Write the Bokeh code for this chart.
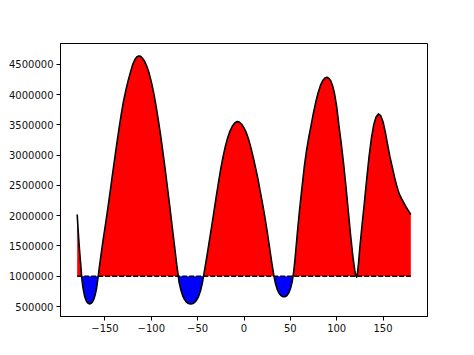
import numpy as np
from bokeh.plotting import figure
from bokeh.models import Range1d, FixedTicker
from bokeh.embed import file_html
from bokeh.resources import INLINE

# Angle (degrees) and value
angles = [-180, -179, -178, -177, -176, -175, -174, -173, -172, -170.5, -169, -167.5,
          -166.5, -165, -163.5, -162, -160.5, -159, -157.5, -156, -154, -152, -150,
          -147.5, -145, -142.5, -140, -137.5, -135, -132.5, -130, -127.5, -125, -122.5,
          -120, -117.5, -115.5, -113.5, -111.5, -109.5, -107.5, -105, -102.5, -100,
          -97.5, -95, -92.5, -90, -87.5, -85, -82.5, -80, -77.5, -75, -72.5, -70, -68,
          -66, -64, -62, -60, -57.5, -55, -53, -51, -49, -47, -45, -42, -40, -37.5,
          -35, -32.5, -30, -27.5, -25, -22.5, -20, -17.5, -15, -12.5, -10, -7.5, -5,
          -2.5, 0, 2.5, 5, 7.5, 10, 12.5, 15, 17.5, 20, 22.5, 25, 27.5, 30, 32, 34, 36,
          38, 40, 41.8, 43.2, 44.8, 46.5, 48.5, 50.5, 52, 53.5, 55, 57.5, 60, 62.5, 65,
          67.5, 70, 72.5, 75, 77.5, 80, 82.5, 85, 87.5, 89.5, 91.5, 93.5, 95.5, 97.5,
          100, 102.5, 105, 107.5, 110, 112.5, 115, 117.5, 119.5, 120.5, 121.5, 122.5,
          123.5, 125, 127.5, 130, 132.5, 135, 137.5, 140, 142.5, 145, 147.5, 150, 152.5,
          155, 157.5, 160, 162.5, 165, 167.5, 170, 172.5, 175, 177.5, 180]
values = [2020000, 1770000, 1540000, 1340000, 1160000, 960000, 840000, 745000, 675000,
          605000, 565000, 548000, 543000, 552000, 577000, 623000, 697000, 810000,
          975000, 1160000, 1380000, 1600000, 1800000, 2060000, 2330000, 2610000,
          2890000, 3160000, 3420000, 3670000, 3890000, 4070000, 4230000, 4370000,
          4500000, 4585000, 4625000, 4638000, 4630000, 4600000, 4555000, 4470000,
          4360000, 4210000, 4030000, 3820000, 3580000, 3330000, 3050000, 2760000,
          2450000, 2140000, 1820000, 1500000, 1180000, 900000, 767000, 673000, 611000,
          571000, 549000, 540000, 550000, 572000, 610000, 669000, 757000, 882000,
          1150000, 1330000, 1570000, 1810000, 2060000, 2310000, 2550000, 2780000,
          2980000, 3150000, 3290000, 3400000, 3480000, 3530000, 3555000, 3545000,
          3510000, 3450000, 3370000, 3260000, 3120000, 2960000, 2790000, 2610000,
          2400000, 2200000, 1980000, 1740000, 1480000, 1220000, 1030000, 880000,
          778000, 714000, 679000, 663000, 660000, 665000, 685000, 731000, 815000,
          913000, 1060000, 1270000, 1700000, 2100000, 2450000, 2800000, 3080000,
          3300000, 3500000, 3700000, 3880000, 4030000, 4150000, 4230000, 4275000,
          4285000, 4270000, 4230000, 4150000, 4030000, 3800000, 3480000, 3180000,
          2850000, 2480000, 2080000, 1680000, 1320000, 1100000, 1020000, 985000,
          1060000, 1200000, 1470000, 1860000, 2230000, 2620000, 2980000, 3280000,
          3500000, 3630000, 3680000, 3650000, 3550000, 3380000, 3170000, 2970000,
          2800000, 2630000, 2480000, 2360000, 2280000, 2210000, 2140000, 2080000,
          2020000]
baseline = 1000000

x_ticks = [-150, -100, -50, 0, 50, 100, 150]
x_tick_labels = ["\u2212150", "\u2212100", "\u221250", "0", "50", "100", "150"]
y_ticks = [500000, 1000000, 1500000, 2000000, 2500000, 3000000, 3500000, 4000000, 4500000]
y_tick_labels = [str(v) for v in y_ticks]

x = np.array(angles, dtype=float)
y = np.array(values, dtype=float)

# insert exact crossing points with the baseline so the fills meet the curve
xs, ys = [x[0]], [y[0]]
for i in range(1, len(x)):
    d0, d1 = y[i - 1] - baseline, y[i] - baseline
    if d0 * d1 < 0:
        t = d0 / (d0 - d1)
        xs.append(x[i - 1] + t * (x[i] - x[i - 1]))
        ys.append(baseline)
    xs.append(x[i]); ys.append(y[i])
xs = np.array(xs); ys = np.array(ys)

xspan = x.max() - x.min()
yspan = y.max() - y.min()
p = figure(width=474, height=355, output_backend="svg", toolbar_location=None,
           x_range=Range1d(x.min() - 0.05 * xspan, x.max() + 0.05 * xspan),
           y_range=Range1d(y.min() - 0.05 * yspan, y.max() + 0.05 * yspan),
           min_border_left=60, min_border_right=47, min_border_top=43, min_border_bottom=39)
p.background_fill_color = "white"
p.border_fill_color = "white"
p.grid.visible = False
p.outline_line_color = "black"
p.outline_line_width = 1

p.varea(x=xs, y1=np.full_like(ys, baseline), y2=np.maximum(ys, baseline), fill_color="#ff0000")
p.varea(x=xs, y1=np.minimum(ys, baseline), y2=np.full_like(ys, baseline), fill_color="#0000ff")
p.line(x=[x.min(), x.max()], y=[baseline, baseline], line_color="black", line_width=1.4,
       line_dash="5 2")
p.line(x=xs, y=ys, line_color="black", line_width=1.6, line_join="round")

for ax in (p.xaxis, p.yaxis):
    ax.axis_line_color = "black"
    ax.major_tick_line_color = "black"
    ax.minor_tick_line_color = None
    ax.major_tick_in = 0
    ax.major_tick_out = 4
    ax.major_label_text_font = "DejaVu Sans"
    ax.major_label_text_font_size = "10px"
    ax.major_label_text_color = "#111111"
    ax.major_label_standoff = 3

p.xaxis.ticker = FixedTicker(ticks=x_ticks)
p.xaxis.major_label_overrides = {t: l for t, l in zip(x_ticks, x_tick_labels)}
p.yaxis.ticker = FixedTicker(ticks=y_ticks)
p.yaxis.major_label_overrides = {t: l for t, l in zip(y_ticks, y_tick_labels)}

open("out.html", "w").write(file_html(p, INLINE))
